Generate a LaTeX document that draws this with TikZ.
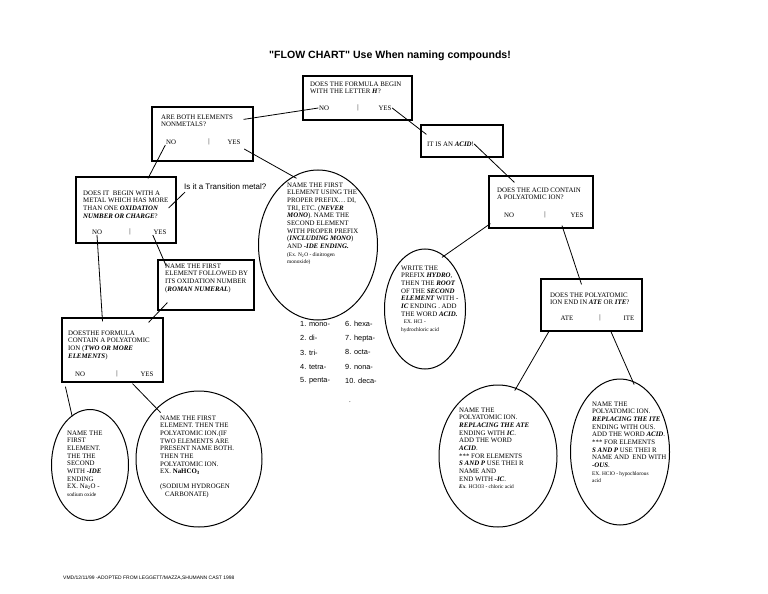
\documentclass[tikz,border=0pt]{standalone}
\usepackage{fontspec}
\setmainfont{Liberation Serif}
\setsansfont{Liberation Sans}
\usetikzlibrary{shapes.geometric,calc}
\newcommand\qfont{\fontsize{6.9}{7.7}\selectfont}
\newcommand\exfont{\fontsize{5.4}{6.6}\selectfont}
\newcommand\bi[1]{\textbf{\textit{#1}}}

\begin{document}
\begin{tikzpicture}[x=1bp,y=-1bp,
    qbox/.style={draw, line width=1.2bp, rectangle, inner sep=0},
    oval/.style={draw, line width=1bp, ellipse, inner sep=0},
    qtext/.style={anchor=north west, align=left, inner sep=0, font=\qfont},
    ans/.style={inner sep=0.5bp, font=\qfont},
    link/.style={line width=0.8bp},
    num/.style={anchor=west, inner sep=0, font=\sffamily\fontsize{7.4}{8}\selectfont}]

    \useasboundingbox (0,0) rectangle (768,594);
    \fill[white] (0,0) rectangle (768,594);

    % Title
    \node[font=\sffamily\bfseries\fontsize{10.6}{12}\selectfont] (title) at (390,56) {\textquotedbl FLOW CHART\textquotedbl{} Use When naming compounds!};

    % Question boxes
    \node[qbox, minimum width=109bp, minimum height=44bp] (b1) at (357.5,98) {};
    \node[qbox, minimum width=101bp, minimum height=54bp] (b2) at (202.5,134) {};
    \node[qbox, minimum width=82bp, minimum height=32bp] (b3) at (462,141) {};
    \node[qbox, minimum width=100bp, minimum height=66bp] (b4) at (126,210) {};
    \node[qbox, minimum width=104bp, minimum height=52bp] (b6) at (541,202) {};
    \node[qbox, minimum width=96bp, minimum height=50bp] (b7) at (206,285) {};
    \node[qbox, minimum width=101bp, minimum height=52bp] (b9) at (591.5,305) {};
    \node[qbox, minimum width=101bp, minimum height=64bp] (b10) at (112.5,350) {};

    % Ovals
    \node[oval, minimum width=119bp, minimum height=150bp] (e1) at (318,245) {};
    \node[oval, minimum width=81bp, minimum height=120bp] (e2) at (425,309) {};
    \node[oval, minimum width=77bp, minimum height=111bp] (e3) at (90,465) {};
    \node[oval, minimum width=126bp, minimum height=136bp] (e4) at (199,459) {};
    \node[oval, minimum width=118bp, minimum height=142bp] (e5) at (498,456) {};
    \node[oval, minimum width=99bp, minimum height=146bp] (e6) at (620,452) {};

    % Box texts
    \node[qtext] (t1) at (310,81.5) {DOES THE FORMULA BEGIN\\WITH THE LETTER \bi{H}?};
    \node[qtext] (t2) at (161,114.5) {ARE BOTH ELEMENTS\\NONMETALS?};
    \node[qtext, anchor=west] (t3) at (427,144) {IT IS AN \bi{ACID}!};
    \node[qtext] (t4) at (83,190.5) {DOES IT\ \ BEGIN WITH A\\METAL WHICH HAS MORE\\THAN ONE \bi{OXIDATION}\\\bi{NUMBER OR CHARGE}?};
    \node[qtext] (t6) at (497,187.5) {DOES THE ACID CONTAIN\\A POLYATOMIC ION?};
    \node[qtext] (t7) at (165,263.5) {NAME THE FIRST\\ELEMENT FOLLOWED BY\\ITS OXIDATION NUMBER\\(\bi{ROMAN NUMERAL})};
    \node[qtext] (t9) at (550,292.5) {DOES THE POLYATOMIC\\ION END IN \bi{ATE} OR \bi{ITE}?};
    \node[qtext] (t10) at (68,330.5) {DOESTHE FORMULA\\CONTAIN A POLYATOMIC\\ION (\bi{TWO OR MORE}\\\bi{ELEMENTS})};

    % Oval texts
    \node[qtext] (t5) at (287,182.5) {NAME THE FIRST\\ELEMENT USING THE\\PROPER PREFIX\ldots{} DI,\\TRI, ETC. (\bi{NEVER}\\\bi{MONO}). NAME THE\\SECOND ELEMENT\\WITH PROPER PREFIX\\(\bi{INCLUDING MONO})\\AND \bi{-IDE ENDING.}\\{\exfont (Ex. N\textsubscript{2}O - dinitrogen}\\{\exfont monoxide)}};
    \node[qtext] (t8) at (401,265.5) {WRITE THE\\PREFIX \bi{HYDRO},\\THEN THE \bi{ROOT}\\OF THE \bi{SECOND}\\\bi{ELEMENT} WITH -\\\bi{IC} ENDING . ADD\\THE WORD \bi{ACID.}\\{\exfont\ \ EX. HCl -}\\{\exfont hydrochloric acid}};
    \node[qtext] (t11) at (67,430.5) {NAME THE\\FIRST\\ELEMENT.\\THE THE\\SECOND\\WITH \bi{-IDE}\\ENDING\\EX. Na\textsubscript{2}O -\\{\exfont sodium oxide}};
    \node[qtext] (t12) at (160,415.5) {NAME THE FIRST\\ELEMENT. THEN THE\\POLYATOMIC ION.(IF\\TWO ELEMENTS ARE\\PRESENT NAME BOTH.\\THEN THE\\POLYATOMIC ION.\\EX. \textbf{NaHCO\textsubscript{3}}\\[7bp](SODIUM HYDROGEN\\\hspace{5bp}CARBONATE)};
    \node[qtext] (t13) at (459,407.5) {NAME THE\\POLYATOMIC ION.\\\bi{REPLACING THE ATE}\\ENDING WITH \bi{IC}.\\ADD THE WORD\\\bi{ACID}.\\*** FOR ELEMENTS\\\bi{S AND P} USE THEI R\\NAME AND\\END WITH \bi{-IC}.\\{\exfont\bi{Ex}. HClO3 - chloric acid}};
    \node[qtext] (t14) at (592,401.5) {NAME THE\\POLYATOMIC ION.\\\bi{REPLACING THE ITE}\\ENDING WITH OUS.\\ADD THE WORD \bi{ACID}.\\*** FOR ELEMENTS\\\bi{S AND P} USE THEI R\\NAME AND\ \ END WITH\\\bi{-OUS}.\\{\exfont EX. HClO - hypochlorous}\\{\exfont acid}};

    % Answer rows
    \foreach \b/\xl/\xm/\xr/\y/\l/\r in {b1/324/358/385/108/NO/YES, b2/171/209/234/142/NO/YES,
        b4/97/130/160/232/NO/YES, b6/509/545/577/215/NO/YES,
        b9/567/600/629/318/ATE/ITE, b10/80/117/147/374/NO/YES} {
        \node[ans] (\b-l) at (\xl,\y) {\l};
        \node[ans] (\b-m) at (\xm,\y) {|};
        \node[ans] (\b-r) at (\xr,\y) {\r};
    }

    % Side note
    \node[anchor=west, inner sep=0, font=\sffamily\fontsize{8}{9}\selectfont] (trans) at (184,187) {Is it a Transition metal?};

    % Prefixes
    \foreach \n/\t [count=\k] in {1/mono-,2/di-,3/tri-,4/tetra-,5/penta-} {
        \node[num] (p\n) at (300,{324+14.2*(\k-1)}) {\n. \t};
    }
    \foreach \n/\t [count=\k] in {6/hexa-,7/hepta-,8/octa-,9/nona-,10/deca-} {
        \node[num] (p\n) at (345,{324+14.2*(\k-1)}) {\n. \t};
    }

    % Links
    \draw[link] (b1-l.west) -- ($(b2.north east)+(-10,13)$);
    \draw[link] (b1-r.east) -- ($(b3.north west)+(6,10)$);
    \draw[link, shorten >=-4bp] ($(b2-r.south east)+(3,4)$) -- (e1.110);
    \draw[link] (b2-l.south west) -- ($(b4.north)+(22,2)$);
    \draw[link] (t3.east) -- ($(b6.north west)+(26,7)$);
    \draw[link] ($(b4.east)+(-8,-2)$) -- ($(trans.south west)+(1,2)$);
    \draw[link] (b4-l.south) -- ($(b10.north)+(-10,4)$);
    \draw[link] (b4-r.south west) -- ($(b7.north west)+(9,7)$);
    \draw[link, shorten >=-3bp] ($(b6.south west)+(2,-5)$) -- (e2.70);
    \draw[link] ($(b6.south)+(21,-3)$) -- ($(b9.north)+(-10,6)$);
    \draw[link] ($(b7.south west)+(10,-8)$) -- ($(b10.north east)+(-15,5)$);
    \draw[link, shorten >=-1bp] ($(b10.south west)+(4,4)$) -- (e3.110);
    \draw[link, shorten >=-6bp] ($(b10.south)+(20,1)$) -- (e4.130);
    \draw[link, shorten >=-3bp] ($(b9.south west)+(9,-1)$) -- (e5.75);
    \draw[link, shorten >=-4bp] ($(b9.south)+(19,-1)$) -- (e6.80);

    % Footer
    \node[inner sep=0, font=\qfont] (dot) at (350,402) {.};
    \node[anchor=west, inner sep=0, font=\sffamily\fontsize{5}{6}\selectfont] (foot) at (63,578) {VMD/12/11/99 -ADOPTED FROM LEGGETT/MAZZA,SHUMANN CAST 1998};
\end{tikzpicture}
\end{document}
